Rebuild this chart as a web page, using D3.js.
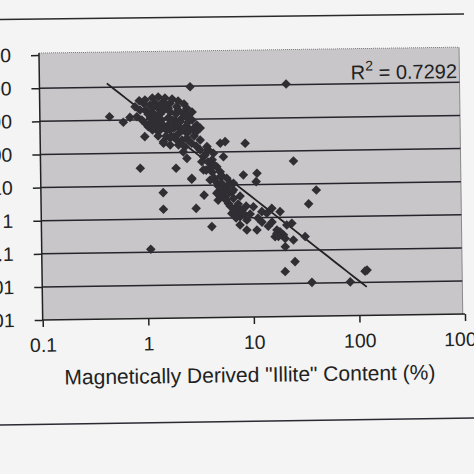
<!DOCTYPE html>
<html><head><meta charset="utf-8">
<script src="https://cdn.jsdelivr.net/npm/d3@7"></script>
<style>
html,body{margin:0;padding:0;background:#f4f4f4;overflow:hidden}
svg{display:block;font-family:"Liberation Sans",Arial,sans-serif}
</style></head><body>
<svg id="c" width="474" height="474"></svg>
<script>
// ---- data ----
const xTickValues = [0.1, 1, 10, 100, 1000];
const xTickLabels = ["0.1", "1", "10", "100", "1000"];
const yTickValues = [0.001, 0.01, 0.1, 1, 10, 100, 1000, 10000, 100000];
const yTickLabels = ["0.001", "0.01", "0.1", "1", "10", "100", "1000", "10000", "100000"];
const xTitle = 'Magnetically Derived "Illite" Content (%)';
const r2Label = "0.7292";
// power-law trendline: y = a * x^b over [start, end]
const trendA = 1540, trendB = -2.567, trendStart = 0.435, trendEnd = 118.5;
// measured points: magnetically derived illite content (%) and y value
const illite = [
 2.67,21.7,0.457,0.616,0.713,8.73,24.9,0.88,1.92,8.31,11.2,10.96,40.6,1.44,3.51,1.44,2.94,34.2,4.12,1.08,24.3,20.3,31.4,25.0,20.1,35.9,82.8,119.8,114.7,2.69,0.98,
 0.877,0.80,0.963,1.11,1.24,1.43,1.72,1.65,1.99,2.29,2.47,0.83,0.925,1.06,1.19,1.27,1.42,1.64,1.90,2.12,1.83,1.47,1.70,2.04,2.45,2.35,
 1.27,1.59,1.47,1.97,2.46,3.06,2.72,3.28,3.79,5.07,5.64,2.26,2.44,3.50,4.35,5.41,3.37,3.49,4.67,5.02,5.79,2.70,4.80,5.55,6.69,6.67,
 4.63,5.36,5.02,6.22,5.95,6.65,7.15,6.39,7.65,8.85,10.25,12.3,15.3,18.3,13.7,7.62,8.82,11.0,17.0,18.9,20.3,16.3,
 16.95,18.2,19.6,17.5,21.1,23.6,
 0.995,1.17,1.33,1.54,1.80,2.05,1.01,1.16,1.32,1.50,1.72,1.95,2.22,2.53,2.76,1.11,1.27,1.43,1.64,1.87,2.12,2.42,2.64,2.88,1.31,1.56,1.71,2.03,2.21,3.0,1.37,1.16,1.01,2.53,2.88,
 3.26,3.63,3.87,4.03,4.22,4.40,4.59,4.78,5.22,5.43,5.66,4.98,5.93,6.17,6.72,7.34,7.98,7.0,8.36,9.53,7.36,5.68,4.23,3.89,4.41,
 0.891,1.06,1.21,1.38,1.57,1.79,2.04,2.33,1.10,1.32,1.50,1.70,1.95,2.21,2.52,2.77,3.0,3.29,
 3.70,4.02,5.23,5.95,6.48,4.76,7.69,8.75,11.3,12.3,14.1,15.3
];
const measured = [
 9530,10500,1280,860,1200,177,49.5,34.6,33.4,19.7,21.9,12.2,6.43,6.22,5.04,1.96,2.02,2.47,0.56,0.123,0.204,0.129,0.256,0.0454,0.0229,0.0105,0.0105,0.0234,0.0219,15.3,310,
 3800,2510,3150,2790,3120,3100,3080,2170,2420,1520,2140,1250,990,617,781,487,972,682,958,535,301,215,170,168,266,149,
 612,483,192,239,376,663,187,233,146,182,203,104,66,73,91.5,71.3,51.5,29.2,35.6,25.2,15.9,16.4,6.32,4.94,11.2,7.0,
 5.67,7.03,17.7,11.2,2.75,3.90,2.16,1.38,1.08,0.853,2.13,1.51,1.88,1.48,1.34,0.61,0.427,0.423,0.415,0.293,0.229,0.263,
 0.327,0.365,0.293,0.263,0.584,0.652,
 3970,4530,4830,4470,4150,3580,1980,1710,2240,1940,1680,1460,1090,1250,942,1130,1290,736,1110,551,830,626,472,309,320,318,482,361,238,154,486,490,748,822,539,
 117,82,50.3,33.2,24.6,16.4,12.4,9.36,10.8,4.02,3.51,4.63,5.34,2.31,1.73,1.51,1.72,0.995,1.30,1.29,2.63,8.12,57.8,116,40.6,
 1977,1486,2576,1476,2940,959,1910,2880,741,973,553,274,721,475,235,1640,408,535,
 28.6,14.3,18.6,9.2,6.05,3.50,4.53,2.25,0.966,0.726,0.546,0.721
];

// ---- layout ----
const svg = d3.select("#c");
const L = 40.9, R = 463.2, T = 52.1, B = 317.1, TOP = 50.1, RB = 461;
const x = d3.scaleLog().domain([0.1, 1000]).range([L, R]);
const y = d3.scaleLog().domain([0.001, 100000]).range([B, T]);
const font = "'Liberation Sans',Arial,sans-serif";

// scan page lines
svg.append("line").attr("x1",0).attr("y1",19.5).attr("x2",464).attr("y2",14).attr("stroke","#2a2a2a").attr("stroke-width",1.6);
svg.append("line").attr("x1",0).attr("y1",425).attr("x2",474).attr("y2",418).attr("stroke","#2a2a33").attr("stroke-width",1.6);

// chart group (the scanned page is slightly rotated)
const g = svg.append("g").attr("transform","rotate(-0.8,250,190)");

// plot background
g.append("rect").attr("x",L).attr("y",TOP).attr("width",RB-L).attr("height",B-TOP).attr("fill","#c8c6c8");
g.append("line").attr("x1",L).attr("x2",RB).attr("y1",TOP).attr("y2",TOP).attr("stroke","#7a7a7a").attr("stroke-width",1).attr("stroke-dasharray","1,1");
g.append("line").attr("x1",RB).attr("x2",RB).attr("y1",TOP).attr("y2",B).attr("stroke","#8a8a8a").attr("stroke-width",1);

// gridlines
g.append("g").selectAll("line").data(yTickValues.slice(1, -1)).join("line")
  .attr("x1",L).attr("x2",RB).attr("y1",d=>y(d)).attr("y2",d=>y(d))
  .attr("stroke","#26242c").attr("stroke-width",1.5);

// axes
const yAxis = d3.axisLeft(y).tickValues(yTickValues).tickFormat((d,i)=>yTickLabels[i]).tickSize(8).tickPadding(20);
const gy = g.append("g").attr("transform",`translate(${L},0)`).call(yAxis);
const xAxis = d3.axisBottom(x).tickValues(xTickValues).tickFormat((d,i)=>xTickLabels[i]).tickSize(7).tickPadding(11);
const gx = g.append("g").attr("transform",`translate(0,${B})`).call(xAxis);
[gx, gy].forEach(a=>{
  a.select(".domain").attr("stroke","#222").attr("stroke-width",1.5);
  a.selectAll(".tick line").attr("stroke","#222").attr("stroke-width",1.5);
  a.selectAll(".tick text").attr("fill","#222").style("font-size","19.5px").style("font-family",font);
});
gy.select(".domain").attr("d",`M0,${TOP}V${B}`);
gx.select(".domain").attr("d",`M${L},0H${R}`);

// x title
g.append("text").attr("x",247.3).attr("y",382).attr("text-anchor","middle")
  .attr("fill","#222").style("font-size","21px").style("font-family",font).text(xTitle);

// trendline
const tx = d3.range(0, 41).map(i => trendStart * Math.pow(trendEnd/trendStart, i/40));
g.append("path").datum(tx)
  .attr("d", d3.line().x(d=>x(d)).y(d=>y(trendA*Math.pow(d,trendB))))
  .attr("fill","none").attr("stroke","#222").attr("stroke-width",1.8);

// points
const sym = d3.symbol().type(d3.symbolSquare).size(46);
g.append("g").selectAll("path").data(illite.map((v,i)=>[v, measured[i]])).join("path")
  .attr("d", sym)
  .attr("transform", d=>`translate(${x(d[0])},${y(d[1])}) rotate(45)`)
  .attr("fill","#302e33");

// R^2 label
const rt = g.append("text").attr("x",458.6).attr("y",81).attr("text-anchor","end")
  .attr("fill","#222").style("font-size","20px").style("font-family",font);
rt.append("tspan").text("R");
rt.append("tspan").attr("dy",-9).style("font-size","14px").text("2");
rt.append("tspan").attr("dy",9).text(" = " + r2Label);
</script>
</body></html>
